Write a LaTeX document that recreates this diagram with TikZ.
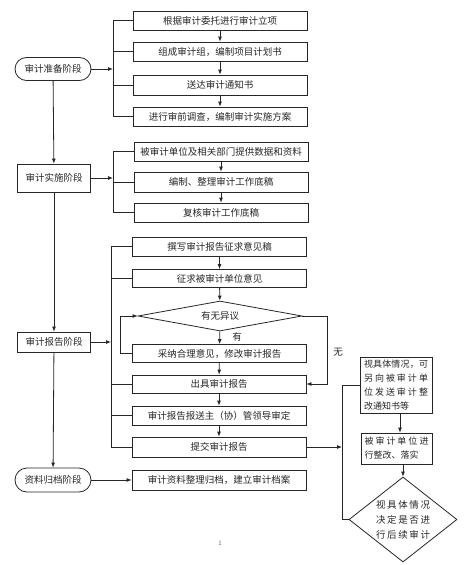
\documentclass[tikz,border=0pt]{standalone}
\usepackage{fontspec}
\setmainfont{Noto Sans CJK SC}
\usetikzlibrary{shapes.geometric,arrows.meta}
\begin{document}
\begin{tikzpicture}[x=1pt,y=-1pt,
  every node/.style={text=black!85},
  ln/.style={draw=black!85, line width=0.8pt},
  arr/.style={ln, -{Latex[length=5pt,width=4pt]}},
  box/.style={ln, rectangle, minimum width=174pt, minimum height=19pt, inner sep=0pt, font=\fontsize{9.5}{11}\selectfont},
  stage/.style={ln, rectangle, minimum width=73pt, inner sep=0pt, font=\fontsize{9.5}{11}\selectfont},
  pill/.style={ln, rectangle, rounded corners=11.5pt, minimum width=76pt, minimum height=23pt, inner sep=0pt, font=\fontsize{9.5}{11}\selectfont},
  sbox/.style={ln, rectangle, inner sep=0pt, font=\fontsize{9}{14}\selectfont, align=left},
  lbl/.style={font=\fontsize{9.5}{11}\selectfont, inner sep=0pt}
]
\useasboundingbox (0,0) rectangle (474,565);

% stage nodes
\node[pill] (s1) at (53,69) {审计准备阶段};
\node[stage, minimum height=28pt] (s2) at (54,178) {审计实施阶段};
\node[stage, minimum height=20pt] (s3) at (54,342) {审计报告阶段};
\node[pill, minimum height=24pt, rounded corners=12pt] (s4) at (53,480) {资料归档阶段};

\draw[arr] (s1) -- (s2);
\draw[arr] (s2) -- (s3);
\draw[arr] (s3) -- (s4);

% preparation group
\node[box] (p1) at (220,20.5) {根据审计委托进行审计立项};
\node[box] (p2) at (220,51.5) {组成审计组，编制项目计划书};
\node[box, minimum height=20pt] (p3) at (220,85) {送达审计通知书};
\node[box] (p4) at (220,116.5) {进行审前调查，编制审计实施方案};
\draw[arr] (p1) -- (p2);
\draw[arr] (p2) -- (p3);
\draw[arr] (p3) -- (p4);
\coordinate (b1) at (113,0);
\draw[ln] (p1.west) -| (b1 |- p4.west) -- (p4.west);
\draw[ln] (p2.west) -- (p2.west -| b1);
\draw[ln] (p3.west) -- (p3.west -| b1);
\draw[arr] (s1.east) -- (s1.east -| b1);

% implementation group
\node[box] (i1) at (221,151.5) {被审计单位及相关部门提供数据和资料};
\node[box, minimum height=20pt] (i2) at (221,182) {编制、整理审计工作底稿};
\node[box] (i3) at (221,212.5) {复核审计工作底稿};
\draw[arr] (i1) -- (i2);
\draw[arr] (i2) -- (i3);
\draw[ln] (i1.west) -| (b1 |- i3.west) -- (i3.west);
\draw[ln] (i2.west) -- (i2.west -| b1);
\draw[arr] (s2.east) -- (s2.east -| b1);

% report group
\node[box] (r1) at (219.5,246.5) {撰写审计报告征求意见稿};
\node[box, minimum height=18pt] (r2) at (219.5,278.5) {征求被审计单位意见};
\node[ln, diamond, aspect=5.5, inner sep=0pt, minimum width=164pt, minimum height=30pt, font=\fontsize{9.5}{11}\selectfont] (d1) at (220,316) {有无异议};
\node[box, minimum height=18pt] (r3) at (219.5,353.5) {采纳合理意见，修改审计报告};
\node[box, minimum height=18pt] (r4) at (219,384) {出具审计报告};
\node[box] (r5) at (219,415.5) {审计报告报送主（协）管领导审定};
\node[box, minimum height=20pt] (r6) at (219,447) {提交审计报告};
\draw[arr] (r1) -- (r2);
\draw[arr] (r2) -- (d1);
\draw[arr] (d1) -- (r3);
\draw[arr] (r3) -- (r4);
\draw[arr] (r4) -- (r5);
\draw[arr] (r5) -- (r6);
\node[lbl] (yes) at (237,337) {有};
\coordinate (lp) at (120,0);
\draw[arr] (r3.west) -- (r3.west -| lp) -- (d1.west -| lp) -- (d1.west);
\coordinate (rp) at (327,0);
\draw[arr] (d1.east) -- (d1.east -| rp) -- (r4.east -| rp) -- (r4.east);
\node[lbl] (no) at (338,352) {无};
\coordinate (b3) at (111,0);
\draw[ln] (r1.west) -| (b3 |- r6.west) -- (r6.west);
\draw[ln] (r2.west) -- (r2.west -| b3);
\draw[ln] (r4.west) -- (r4.west -| b3);
\draw[ln] (r5.west) -- (r5.west -| b3);
\draw[arr] (s3.east) -- (s3.east -| b3);

% archive
\node[box, minimum height=20pt] (a1) at (219,480) {审计资料整理归档，建立审计档案};
\draw[arr] (s4.east) -- (a1.west);

% right side
\node[sbox, minimum width=72pt, minimum height=56pt] (q1) at (396,385) {%
  \makebox[64pt][s]{视\hfil 具\hfil 体\hfil 情\hfil 况\hfil ，\hfil 可}\\
  \makebox[64pt][s]{另\hfil 向\hfil 被\hfil 审\hfil 计\hfil 单}\\
  \makebox[64pt][s]{位\hfil 发\hfil 送\hfil 审\hfil 计\hfil 整}\\
  改通知书等};
\node[sbox, minimum width=71pt, minimum height=31pt] (q2) at (396.5,448.5) {%
  \makebox[64pt][s]{被\hfil 审\hfil 计\hfil 单\hfil 位\hfil 进}\\
  行整改、落实};
\node[ln, diamond, aspect=1.27, inner sep=0pt, minimum width=108pt, minimum height=85pt, font=\fontsize{9.5}{15}\selectfont, align=center] (q3) at (403,519.5) {%
  \makebox[54pt][s]{视\hfil 具\hfil 体\hfil 情\hfil 况}\\
  \makebox[54pt][s]{决\hfil 定\hfil 是\hfil 否\hfil 进}\\
  \makebox[54pt][s]{行\hfil 后\hfil 续\hfil 审\hfil 计}};
\coordinate (xa) at (400,0);
\draw[arr] (q1.south -| xa) -- (q2.north -| xa);
\draw[arr] (q2.south -| q3.north) -- (q3.north);
\coordinate (vp) at (342,0);
\draw[ln] (q3.west) -- (q3.west -| vp) -- (q1.west -| vp) -- (q1.west);
\draw[arr] (r6.east) -- (r6.east -| vp);

\node[font=\fontsize{6}{7}\selectfont, text=black!60, inner sep=0pt] (pg) at (220,543) {1};
\end{tikzpicture}
\end{document}
